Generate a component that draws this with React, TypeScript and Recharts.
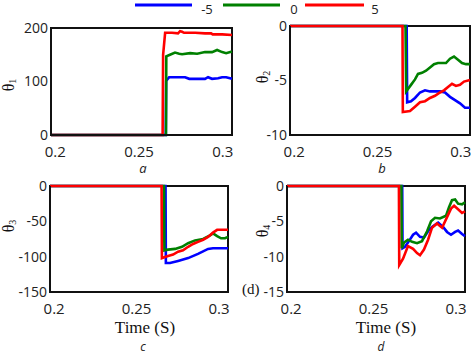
import React from 'react';
import { LineChart, Line, XAxis, YAxis, ReferenceArea } from 'recharts';

const SERIES_NAMES = ['-5', '0', '5'];
const SERIES_COLORS = ['#0000FF', '#008000', '#FF0000'];
const X_TICKS = [0.2, 0.25, 0.3];
const X_DOMAIN: [number, number] = [0.1975, 0.3055];

// Panel a: theta1
const A_BLUE = [[0.1975,0],[0.2660,0],[0.2662,101],[0.2680,108],[0.2775,108],[0.2800,105],[0.2894,105],[0.2912,108],[0.2936,105],[0.2972,106],[0.2996,108],[0.3020,108],[0.3055,105]];
const A_GREEN = [[0.1975,0],[0.2661,0],[0.2663,147],[0.2685,150],[0.2715,154],[0.2740,152],[0.2757,151],[0.2805,153],[0.2847,152],[0.2894,155],[0.2936,155],[0.2966,159],[0.2996,155],[0.3020,153],[0.3055,156]];
const A_RED = [[0.1975,0],[0.2641,0],[0.2644,150],[0.2656,191],[0.2697,191],[0.2733,190],[0.2745,194],[0.2757,193],[0.2769,191],[0.2835,191],[0.2894,190],[0.2930,190],[0.2940,188],[0.2996,188],[0.3055,187]];

// Panel b: theta2
const B_BLUE = [[0.1975,0],[0.2675,0],[0.2678,-7.0],[0.2701,-6.9],[0.2725,-6.6],[0.2755,-6.1],[0.2785,-5.9],[0.2815,-6.0],[0.2875,-6.0],[0.2905,-6.1],[0.2935,-6.5],[0.2965,-6.8],[0.2995,-7.1],[0.3025,-7.5],[0.3055,-7.5]];
const B_GREEN = [[0.1975,0],[0.2668,0],[0.2672,-6.0],[0.2701,-5.4],[0.2725,-4.9],[0.2743,-4.4],[0.2767,-4.3],[0.2791,-4.1],[0.2815,-3.8],[0.2839,-3.5],[0.2863,-3.4],[0.2911,-3.4],[0.2935,-3.0],[0.2959,-2.8],[0.2983,-3.1],[0.3007,-3.4],[0.3031,-3.5],[0.3055,-3.5]];
const B_RED = [[0.1975,0],[0.2650,0],[0.2652,-7.9],[0.2695,-7.8],[0.2725,-7.4],[0.2755,-7.0],[0.2785,-6.9],[0.2815,-6.6],[0.2845,-6.4],[0.2875,-6.1],[0.2899,-5.9],[0.2923,-5.6],[0.2947,-5.3],[0.2971,-5.5],[0.2995,-5.4],[0.3019,-5.1],[0.3055,-4.95]];

// Panel c: theta3
const C_BLUE = [[0.1975,0],[0.2676,0],[0.2678,-109],[0.2703,-109],[0.2752,-106],[0.2813,-102],[0.2873,-96],[0.2934,-89],[0.2964,-88],[0.3055,-88]];
const C_GREEN = [[0.1975,0],[0.2667,0],[0.2669,-91],[0.2691,-90],[0.2734,-89],[0.2776,-86],[0.2813,-81],[0.2855,-77],[0.2904,-75],[0.2946,-70],[0.2964,-67],[0.2989,-71],[0.3013,-74],[0.3037,-74],[0.3055,-72]];
const C_RED = [[0.1975,0],[0.2652,0],[0.2654,-102],[0.2691,-99],[0.2722,-97],[0.2752,-93],[0.2782,-91],[0.2813,-86],[0.2843,-82],[0.2873,-79],[0.2904,-76],[0.2934,-72],[0.2964,-66],[0.2989,-62],[0.3055,-62]];

// Panel d: theta4
const D_BLUE = [[0.1975,0],[0.2674,0],[0.2676,-8.8],[0.2691,-8.6],[0.2715,-7.8],[0.2740,-6.9],[0.2758,-6.6],[0.2782,-7.2],[0.2806,-7.3],[0.2831,-6.4],[0.2855,-5.8],[0.2892,-5.2],[0.2922,-5.8],[0.2946,-6.5],[0.2970,-6.9],[0.2995,-6.5],[0.3013,-6.3],[0.3037,-6.8],[0.3055,-7.1]];
const D_GREEN = [[0.1975,0],[0.2669,0],[0.2671,-8.8],[0.2685,-8.0],[0.2709,-7.6],[0.2734,-7.9],[0.2764,-8.1],[0.2794,-7.8],[0.2825,-6.4],[0.2849,-5.0],[0.2873,-4.5],[0.2903,-4.6],[0.2940,-4.2],[0.2958,-3.0],[0.2976,-2.0],[0.2995,-1.9],[0.3013,-2.5],[0.3037,-2.6],[0.3055,-2.3]];
const D_RED = [[0.1975,0],[0.2654,0],[0.2656,-11.2],[0.2679,-10.3],[0.2709,-8.5],[0.2740,-8.9],[0.2764,-9.5],[0.2782,-9.8],[0.2806,-9.0],[0.2831,-7.6],[0.2855,-5.9],[0.2885,-5.3],[0.2916,-5.9],[0.2946,-4.4],[0.2970,-3.2],[0.2989,-2.8],[0.3013,-3.3],[0.3037,-3.8],[0.3055,-3.6]];

const toRows = (pairs: number[][]) => pairs.map(([t, v]) => ({ t, v }));

const AXIS_STYLE = { stroke: '#111', strokeWidth: 2 };
const SANS = 'Open Sans, Liberation Sans, sans-serif';
const SERIF = 'Liberation Serif, DejaVu Serif, serif';

type PanelProps = {
  left: number; top: number; width: number; height: number;
  mTop: number; mRight: number; yWidth: number; xHeight: number;
  yDomain: [number, number]; yTicks: number[]; series: number[][][];
};

function Panel(p: PanelProps) {
  return (
    <div style={{ position: 'absolute', left: p.left, top: p.top }}>
      <LineChart width={p.width} height={p.height} margin={{ top: p.mTop, right: p.mRight, bottom: 0, left: 0 }}>
        <XAxis xAxisId="b" dataKey="t" type="number" domain={X_DOMAIN} ticks={X_TICKS} interval={0}
          height={p.xHeight} tickLine={false} tickSize={6} tickMargin={5} axisLine={AXIS_STYLE}
          tick={{ fontSize: 15, fill: '#222', fontFamily: SANS }} tickFormatter={(v: number) => String(v)} />
        <YAxis yAxisId="l" type="number" domain={p.yDomain} ticks={p.yTicks} interval={0} width={p.yWidth}
          tickLine={false} tickSize={1} tickMargin={2} axisLine={AXIS_STYLE}
          tick={{ fontSize: 14, fill: '#222', fontFamily: SANS }} />
        <ReferenceArea xAxisId="b" yAxisId="l" x1={X_DOMAIN[0]} x2={X_DOMAIN[1]} y1={p.yDomain[0]} y2={p.yDomain[1]}
          fill="none" fillOpacity={0} stroke="#111" strokeWidth={2} ifOverflow="visible" />
        {p.series.map((s, i) => (
          <Line key={SERIES_NAMES[i]} xAxisId="b" yAxisId="l" data={toRows(s)} dataKey="v" name={SERIES_NAMES[i]}
            type="linear" stroke={SERIES_COLORS[i]} strokeWidth={2.6} dot={false} activeDot={false}
            isAnimationActive={false} />
        ))}
      </LineChart>
    </div>
  );
}

function ThetaLabel({ x, y, sub }: { x: number; y: number; sub: string }) {
  return (
    <text x={x} y={y} transform={`rotate(-90 ${x} ${y})`} textAnchor="middle" dominantBaseline="central"
      fontFamily={SERIF} fontSize={16} fill="#111">
      θ<tspan fontSize={10} dy={4}>{sub}</tspan>
    </text>
  );
}

const LEGEND_POS = [
  { x1: 135, x2: 192, tx: 207 },
  { x1: 223, x2: 280, tx: 294 },
  { x1: 305, x2: 364, tx: 375 },
];

export default function App() {
  return (
    <div style={{ position: 'absolute', left: 0, top: 0, width: 474, height: 354, background: '#fff', overflow: 'hidden' }}>
      <Panel left={0} top={0} width={240} height={177} mTop={28} mRight={8} yWidth={51} xHeight={42}
        yDomain={[0, 200]} yTicks={[0, 100, 200]} series={[A_BLUE, A_GREEN, A_RED]} />
      <Panel left={240} top={0} width={234} height={177} mTop={26} mRight={4} yWidth={50} xHeight={42}
        yDomain={[-10, 0]} yTicks={[-10, -5, 0]} series={[B_BLUE, B_GREEN, B_RED]} />
      <Panel left={0} top={177} width={240} height={177} mTop={9} mRight={12} yWidth={50} xHeight={62}
        yDomain={[-150, 0]} yTicks={[-150, -100, -50, 0]} series={[C_BLUE, C_GREEN, C_RED]} />
      <Panel left={240} top={177} width={234} height={177} mTop={9} mRight={9} yWidth={47} xHeight={62}
        yDomain={[-15, 0]} yTicks={[-15, -10, -5, 0]} series={[D_BLUE, D_GREEN, D_RED]} />
      <svg width={474} height={354} style={{ position: 'absolute', left: 0, top: 0, pointerEvents: 'none' }}>
        {SERIES_NAMES.map((n, i) => (
          <g key={n}>
            <line x1={LEGEND_POS[i].x1} x2={LEGEND_POS[i].x2} y1={5} y2={5} stroke={SERIES_COLORS[i]} strokeWidth={3} />
            <text x={LEGEND_POS[i].tx} y={9} textAnchor="middle" dominantBaseline="central" fontFamily={SANS} fontSize={13} fill="#222">{n}</text>
          </g>
        ))}
        <ThetaLabel x={8} y={85} sub="1" />
        <ThetaLabel x={262} y={77} sub="2" />
        <ThetaLabel x={8} y={226} sub="3" />
        <ThetaLabel x={262} y={231} sub="4" />
        <text x={242} y={289} dominantBaseline="central" fontFamily={SERIF} fontSize={15} fill="#111">(d)</text>
        <text x={145} y={327} textAnchor="middle" dominantBaseline="central" fontFamily={SERIF} fontSize={17} fill="#111">Time (S)</text>
        <text x={386} y={327} textAnchor="middle" dominantBaseline="central" fontFamily={SERIF} fontSize={17} fill="#111">Time (S)</text>
        <text x={143} y={168} textAnchor="middle" dominantBaseline="central" fontFamily={SANS} fontStyle="italic" fontSize={13} fill="#222">a</text>
        <text x={382} y={168} textAnchor="middle" dominantBaseline="central" fontFamily={SANS} fontStyle="italic" fontSize={13} fill="#222">b</text>
        <text x={143} y={346} textAnchor="middle" dominantBaseline="central" fontFamily={SANS} fontStyle="italic" fontSize={12} fill="#222">c</text>
        <text x={381} y={346} textAnchor="middle" dominantBaseline="central" fontFamily={SANS} fontStyle="italic" fontSize={12} fill="#222">d</text>
      </svg>
    </div>
  );
}
